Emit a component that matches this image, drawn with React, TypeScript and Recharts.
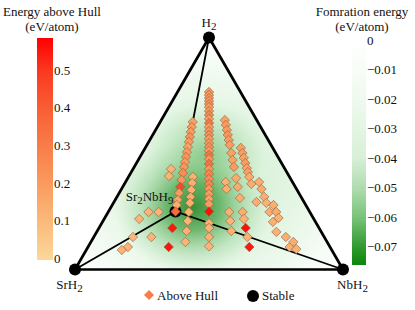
import React from 'react';
import { ScatterChart, Scatter, XAxis, YAxis } from 'recharts';

const FONT = "'Liberation Serif', 'Times New Roman', 'DejaVu Serif', serif";
const SQ3 = Math.sqrt(3) / 2;

// each entry: [H2 fraction, energy above hull (eV/atom)]
// columns are grouped by the metal ratio r = Nb / (Sr + Nb)
const colSr1Nb1: [number, number][] = [
  [0.765, 0.2], [0.752, 0.2], [0.739, 0.22], [0.726, 0.2], [0.713, 0.24], [0.7, 0.2],
  [0.683, 0.22], [0.666, 0.26], [0.649, 0.2], [0.631, 0.32], [0.614, 0.2], [0.597, 0.22],
  [0.58, 0.25], [0.563, 0.2], [0.545, 0.22], [0.528, 0.24], [0.511, 0.2], [0.494, 0.33],
  [0.476, 0.22], [0.455, 0.34], [0.433, 0.22], [0.412, 0.28], [0.39, 0.25], [0.369, 0.28],
  [0.347, 0.22], [0.325, 0.2], [0.304, 0.18], [0.282, 0.2], [0.25, 0.56], [0.2, 0.13],
  [0.179, 0.12], [0.14, 0.13], [0.1, 0.12],
];
const colSr2Nb1: [number, number][] = [
  [0.636, 0.18], [0.614, 0.2], [0.593, 0.2], [0.571, 0.22], [0.55, 0.2], [0.528, 0.18],
  [0.506, 0.2], [0.485, 0.22], [0.463, 0.2], [0.442, 0.22], [0.416, 0.25], [0.386, 0.22],
  [0.356, 0.45], [0.33, 0.2], [0.3, 0.17], [0.278, 0.15], [0.25, 0.36], [0.179, 0.55], [0.097, 0.55],
];
const colSr3Nb2: [number, number][] = [
  [0.399, 0.13], [0.373, 0.14], [0.343, 0.13], [0.313, 0.15], [0.287, 0.14], [0.248, 0.13],
  [0.209, 0.12], [0.166, 0.13], [0.119, 0.12],
];
const colSr3Nb1: [number, number][] = [[0.433, 0.12], [0.403, 0.12], [0.248, 0.12], [0.14, 0.12]];
const colSr2Nb3: [number, number][] = [[0.377, 0.13], [0.347, 0.14], [0.248, 0.13], [0.209, 0.12], [0.166, 0.13]];
const colSr1Nb2: [number, number][] = [
  [0.644, 0.18], [0.623, 0.2], [0.601, 0.2], [0.58, 0.22], [0.558, 0.2], [0.537, 0.2],
  [0.502, 0.18], [0.472, 0.18], [0.442, 0.2], [0.394, 0.15], [0.356, 0.15], [0.308, 0.14],
  [0.248, 0.14], [0.218, 0.13], [0.179, 0.56], [0.14, 0.13], [0.097, 0.55],
];
const colSr1Nb3: [number, number][] = [
  [0.524, 0.18], [0.502, 0.2], [0.481, 0.18], [0.459, 0.2], [0.437, 0.17], [0.42, 0.18],
  [0.399, 0.15], [0.369, 0.15], [0.291, 0.14],
];
const colSr1Nb4: [number, number][] = [[0.377, 0.14], [0.347, 0.15], [0.313, 0.14], [0.287, 0.13], [0.248, 0.14], [0.205, 0.13], [0.162, 0.13]];
const colSr1Nb5: [number, number][] = [[0.278, 0.14], [0.248, 0.15], [0.222, 0.13], [0.14, 0.14], [0.097, 0.13]];
const colSr1Nb6: [number, number][] = [[0.119, 0.14], [0.088, 0.13]];
// scattered Sr-rich points: [H2 fraction, r, energy]
const srRich: [number, number, number][] = [
  [0.248, 0.2, 0.12], [0.218, 0.167, 0.12], [0.14, 0.17, 0.11], [0.097, 0.165, 0.12], [0.084, 0.145, 0.12],
];

const columns: [number, [number, number][]][] = [
  [1 / 2, colSr1Nb1], [1 / 3, colSr2Nb1], [2 / 5, colSr3Nb2], [1 / 4, colSr3Nb1], [3 / 5, colSr2Nb3],
  [2 / 3, colSr1Nb2], [3 / 4, colSr1Nb3], [4 / 5, colSr1Nb4], [5 / 6, colSr1Nb5], [6 / 7, colSr1Nb6],
];

// stable phases: [name, H2 fraction, r]
const stable: [string, number, number][] = [
  ['SrH2', 0, 0], ['NbH2', 0, 1], ['H2', 1, 0.5], ['Sr2NbH9', 0.25, 1 / 3],
];

const hullTicks = [0, 0.1, 0.2, 0.3, 0.4, 0.5];
const hullMax = 0.585;
const formTicks = [0, -0.01, -0.02, -0.03, -0.04, -0.05, -0.06, -0.07];
const formMin = -0.0761;

const hullStops: [number, number[]][] = [
  [0, [252, 215, 155]], [0.1, [251, 186, 122]], [0.2, [250, 155, 95]], [0.3, [249, 125, 72]],
  [0.4, [248, 94, 52]], [0.5, [250, 56, 32]], [0.585, [255, 0, 0]],
];
function hullColor(e: number) {
  for (let i = 1; i < hullStops.length; i++) {
    const [e1, c1] = hullStops[i];
    const [e0, c0] = hullStops[i - 1];
    if (e <= e1 || i === hullStops.length - 1) {
      const t = Math.max(0, Math.min(1, (e - e0) / (e1 - e0)));
      const c = c0.map((v, k) => Math.round(v + (c1[k] - v) * t));
      return `rgb(${c[0]},${c[1]},${c[2]})`;
    }
  }
  return 'red';
}

function toXY(h: number, r: number) {
  const nb = (1 - h) * r;
  return { x: nb + h / 2, y: h * SQ3 };
}

const aboveHull = [
  ...columns.flatMap(([r, pts]) => pts.map(([h, e]) => ({ ...toXY(h, r), e }))),
  ...srRich.map(([h, r, e]) => ({ ...toXY(h, r), e })),
];
const stablePts = stable.map(([name, h, r]) => ({ name, ...toXY(h, r) }));
const byName = (n: string) => stablePts.find((p) => p.name === n)!;
const triangle = ['SrH2', 'H2', 'NbH2', 'SrH2'].map(byName);
const tieLines = ['H2', 'Sr2NbH9', 'SrH2', 'Sr2NbH9', 'NbH2'].map(byName);

const labelPlace: Record<string, { dx: number; dy: number; anchor: 'start' | 'middle' | 'end' }> = {
  H2: { dx: 0, dy: -10.5, anchor: 'middle' },
  SrH2: { dx: -5.5, dy: 19.5, anchor: 'middle' },
  NbH2: { dx: 9.5, dy: 19.5, anchor: 'middle' },
  Sr2NbH9: { dx: -2, dy: -11, anchor: 'end' },
};

function Formula({ x, y, text, anchor }: { x: number; y: number; text: string; anchor: 'start' | 'middle' | 'end' }) {
  const parts = text.split(/(\d+)/).filter(Boolean);
  let low = false;
  return (
    <text x={x} y={y} textAnchor={anchor} style={{ fontFamily: FONT, fontSize: 13 }} fill="#111">
      {parts.map((p, i) => {
        const num = /^\d+$/.test(p);
        let dy = 0;
        if (num && !low) dy = 3;
        if (!num && low) dy = -3;
        low = num;
        return (
          <tspan key={i} dy={dy} style={{ fontSize: num ? 11 : 13 }}>
            {p}
          </tspan>
        );
      })}
    </text>
  );
}

const noDot = () => <g />;

const diamond = (props: any) => {
  const { cx, cy, payload } = props;
  const s = 4.7;
  return (
    <polygon
      points={`${cx},${cy - s} ${cx + s},${cy} ${cx},${cy + s} ${cx - s},${cy}`}
      fill={hullColor(payload.e)}
      stroke="#8a5c42"
      strokeWidth={0.6}
    />
  );
};

const stableDot = (props: any) => {
  const { cx, cy, payload } = props;
  const lp = labelPlace[payload.name];
  return (
    <g>
      <circle cx={cx} cy={cy} r={6} fill="#000" />
      <Formula x={cx + lp.dx} y={cy + lp.dy} text={payload.name} anchor={lp.anchor} />
    </g>
  );
};

function Overlay() {
  const hTop = 38;
  const hBot = 258.5;
  const hy = (v: number) => hBot - (v / hullMax) * (hBot - hTop);
  const fTop = 40;
  const fBot = 265;
  const fy = (v: number) => fTop + (v / formMin) * (fBot - fTop);
  const gradSteps = [0, 0.1, 0.2, 0.3, 0.4, 0.5, 0.585];
  return (
    <svg width={415} height={310} style={{ position: 'absolute', left: 0, top: 0, pointerEvents: 'none' }}>
      <defs>
        <linearGradient id="hullGrad" x1="0" y1="1" x2="0" y2="0">
          {gradSteps.map((v) => (
            <stop key={v} offset={v / hullMax} stopColor={hullColor(v)} />
          ))}
        </linearGradient>
        <linearGradient id="formGrad" x1="0" y1="0" x2="0" y2="1">
          <stop offset="0" stopColor="#ffffff" />
          <stop offset="0.25" stopColor="#f0faf0" />
          <stop offset="0.52" stopColor="#d8f0d8" />
          <stop offset="0.66" stopColor="#aedcae" />
          <stop offset="0.79" stopColor="#78c278" />
          <stop offset="0.92" stopColor="#309a30" />
          <stop offset="1" stopColor="#0a870a" />
        </linearGradient>
        <radialGradient id="triBase" cx="0.5" cy="0.62" r="0.62">
          <stop offset="0" stopColor="#cdeccd" />
          <stop offset="0.5" stopColor="#e3f5e3" />
          <stop offset="1" stopColor="#ffffff" />
        </radialGradient>
        <radialGradient id="triCore" cx="0.44" cy="0.73" r="0.29">
          <stop offset="0" stopColor="rgb(30,130,30)" stopOpacity={0.88} />
          <stop offset="0.35" stopColor="rgb(50,150,50)" stopOpacity={0.64} />
          <stop offset="0.7" stopColor="rgb(110,190,110)" stopOpacity={0.28} />
          <stop offset="1" stopColor="rgb(150,210,150)" stopOpacity={0} />
        </radialGradient>
        <radialGradient id="triUpper" cx="0.49" cy="0.5" r="0.22">
          <stop offset="0" stopColor="rgb(60,160,60)" stopOpacity={0.45} />
          <stop offset="1" stopColor="rgb(120,200,120)" stopOpacity={0} />
        </radialGradient>
      </defs>
      <g style={{ fontFamily: FONT, fontSize: 13 }} fill="#111">
        <text x={52} y={16} textAnchor="middle">Energy above Hull</text>
        <text x={52} y={31} textAnchor="middle">(eV/atom)</text>
        <rect x={37} y={hTop} width={16} height={hBot - hTop + 1.5} fill="url(#hullGrad)" />
        {hullTicks.map((t) => (
          <text key={t} x={54} y={hy(t)} dominantBaseline="central">{t === 0 ? '0' : t.toFixed(1)}</text>
        ))}
        <text x={362} y={16} textAnchor="middle">Fomration energy</text>
        <text x={362} y={31} textAnchor="middle">(eV/atom)</text>
        <rect x={352} y={fTop} width={14} height={fBot - fTop} fill="url(#formGrad)" />
        {formTicks.map((t) => (
          <text key={t} x={367} y={fy(t)} dominantBaseline="central">
            {t === 0 ? '0' : '\u2212' + Math.abs(t).toFixed(2)}
          </text>
        ))}
        <polygon points="149,290 154,295 149,300 144,295" fill={hullColor(0.3)} />
        <text x={157} y={295} dominantBaseline="central">Above Hull</text>
        <circle cx={253} cy={296} r={6} fill="#000" />
        <text x={262} y={295} dominantBaseline="central">Stable</text>
      </g>
    </svg>
  );
}

export default function App() {
  return (
    <div style={{ position: 'absolute', left: 0, top: 0, width: 415, height: 310, fontFamily: FONT }}>
      <ScatterChart width={415} height={310} margin={{ top: 37.5, right: 72, bottom: 40.5, left: 75 }}>
        <XAxis type="number" dataKey="x" domain={[0, 1]} hide />
        <YAxis type="number" dataKey="y" domain={[0, SQ3]} hide />
        <Scatter data={triangle} shape={noDot} line={{ fill: 'url(#triBase)', stroke: 'none' }} isAnimationActive={false} />
        <Scatter data={triangle} shape={noDot} line={{ fill: 'url(#triUpper)', stroke: 'none' }} isAnimationActive={false} />
        <Scatter data={triangle} shape={noDot} line={{ fill: 'url(#triCore)', stroke: 'none' }} isAnimationActive={false} />
        <Scatter data={triangle} shape={noDot} line={{ fill: 'none', stroke: '#000', strokeWidth: 2.7, strokeLinejoin: 'round' }} isAnimationActive={false} />
        <Scatter data={tieLines} shape={noDot} line={{ fill: 'none', stroke: '#000', strokeWidth: 1.8 }} isAnimationActive={false} />
        <Scatter data={stablePts} shape={stableDot} isAnimationActive={false} />
        <Scatter data={aboveHull} shape={diamond} isAnimationActive={false} />
      </ScatterChart>
      <Overlay />
    </div>
  );
}
